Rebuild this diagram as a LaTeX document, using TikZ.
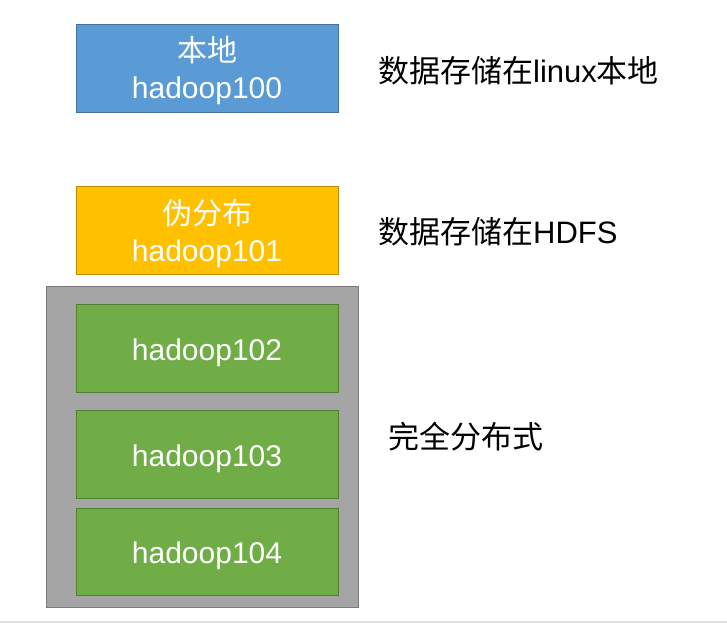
\documentclass[tikz,border=0pt]{standalone}
\usepackage{fontspec}
\setmainfont{Liberation Sans}
\newfontfamily\cjk{Noto Sans CJK SC}
\definecolor{bluefill}{HTML}{5B9BD5}
\definecolor{blueline}{HTML}{41719C}
\definecolor{yellowfill}{HTML}{FFC000}
\definecolor{yellowline}{HTML}{BC8C00}
\definecolor{greenfill}{HTML}{70AD47}
\definecolor{greenline}{HTML}{507E32}
\definecolor{grayfill}{HTML}{A5A5A5}
\definecolor{grayline}{HTML}{7B7B7B}
\begin{document}
\begin{tikzpicture}[x=1pt,y=-1pt,
  boxtext/.style={text=white,font=\fontsize{30}{37}\selectfont,align=center,inner sep=0pt},
  sidetext/.style={anchor=west,text=black,font=\fontsize{31}{36}\selectfont,inner sep=0pt}]
\useasboundingbox (0,0) rectangle (727,624);
\fill[white] (0,0) rectangle (727,624);
% outer gray container
\draw[fill=grayfill,draw=grayline,line width=1pt] (46,286) rectangle (358,607);
% blue
\draw[fill=bluefill,draw=blueline,line width=1pt] (76,24) rectangle (338,112);
\node[boxtext] (local) at (207,71) {{\cjk 本地}\\hadoop100};
% yellow
\draw[fill=yellowfill,draw=yellowline,line width=1pt] (76,186) rectangle (338,274);
\node[boxtext] (pseudo) at (207,233) {{\cjk 伪分布}\\hadoop101};
% green
\draw[fill=greenfill,draw=greenline,line width=1pt] (76,304) rectangle (338,392);
\node[boxtext] (h102) at (207,353) {hadoop102};
\draw[fill=greenfill,draw=greenline,line width=1pt] (76,410) rectangle (338,498);
\node[boxtext] (h103) at (207,459) {hadoop103};
\draw[fill=greenfill,draw=greenline,line width=1pt] (76,508) rectangle (338,595);
\node[boxtext] (h104) at (207,556) {hadoop104};
% side labels
\node[sidetext] (t1) at (378,71) {{\cjk 数据存储在}linux{\cjk 本地}};
\node[sidetext] (t2) at (378,232) {{\cjk 数据存储在}HDFS};
\node[sidetext] (t3) at (388,437) {{\cjk 完全分布式}};
% bottom line
\draw[draw=black!12,line width=1.5pt] (0,622) -- (727,622);
\end{tikzpicture}
\end{document}
